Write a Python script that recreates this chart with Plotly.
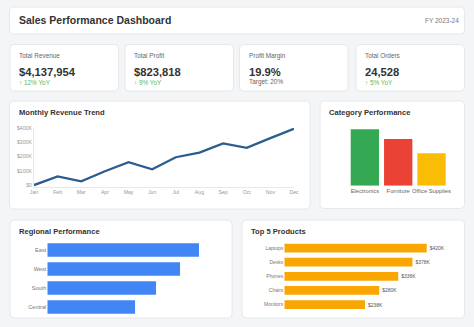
import plotly.graph_objects as go

W, H = 474, 327

# ---------------- data ----------------
kpi_labels = ["Total Revenue", "Total Profit", "Profit Margin", "Total Orders"]
kpi_values = ["$4,137,954", "$823,818", "19.9%", "24,528"]
kpi_subs = ["↑ 12% YoY", "↑ 9% YoY", "Target: 20%", "↑ 5% YoY"]

months = ["Jan", "Feb", "Mar", "Apr", "May", "Jun", "Jul", "Aug", "Sep", "Oct", "Nov", "Dec"]
monthly_revenue = [0, 61000, 26000, 97000, 160000, 110000, 195000, 228000, 292000, 261000, 329000, 395000]
rev_tickvals = [0, 100000, 200000, 300000, 400000]
rev_ticktext = ["$0", "$100K", "$200K", "$300K", "$400K"]

categories = ["Electronics", "Furniture", "Office Supplies"]
category_values = [1718000, 1423000, 987000]
category_colors = ["#34a853", "#ea4335", "#fbbc05"]

regions = ["East", "West", "South", "Central"]
region_values = [1305000, 1142000, 935000, 755000]

products = ["Laptops", "Desks", "Phones", "Chairs", "Monitors"]
product_values = [420000, 378000, 336000, 280000, 238000]
product_labels = ["$420K", "$378K", "$336K", "$280K", "$238K"]

FONT = "Liberation Sans, Arial, sans-serif"


def px(x):
    return x / W


def py(y):
    return 1 - y / H


def card(x0, y0, x1, y1, r=4):
    X0, X1 = px(x0), px(x1)
    Y0, Y1 = py(y0), py(y1)
    rx, ry = r / W, r / H
    path = (f"M {X0+rx},{Y0} L {X1-rx},{Y0} Q {X1},{Y0} {X1},{Y0-ry} "
            f"L {X1},{Y1+ry} Q {X1},{Y1} {X1-rx},{Y1} "
            f"L {X0+rx},{Y1} Q {X0},{Y1} {X0},{Y1+ry} "
            f"L {X0},{Y0-ry} Q {X0},{Y0} {X0+rx},{Y0} Z")
    return dict(type="path", path=path, xref="paper", yref="paper",
                fillcolor="white", line=dict(color="#e6e8eb", width=1), layer="below")


def txt(x, y, s, size, color, bold=False, anchor="left"):
    return dict(x=px(x), y=py(y), xref="paper", yref="paper", text=(f"<b>{s}</b>" if bold else s),
                showarrow=False, xanchor=anchor, yanchor="middle", borderpad=0,
                font=dict(family=FONT, size=size, color=color))


fig = go.Figure()

# Line chart
fig.add_trace(go.Scatter(x=months, y=monthly_revenue, mode="lines",
                         line=dict(color="#2b5d8e", width=2.3), xaxis="x", yaxis="y",
                         showlegend=False, hoverinfo="skip"))
# Category bars
fig.add_trace(go.Bar(x=categories, y=category_values, marker=dict(color=category_colors, line=dict(width=0)),
                     xaxis="x2", yaxis="y2", showlegend=False, hoverinfo="skip"))
# Regional bars
fig.add_trace(go.Bar(y=regions, x=region_values, orientation="h",
                     marker=dict(color="#4285f4", line=dict(width=0)),
                     xaxis="x3", yaxis="y3", showlegend=False, hoverinfo="skip"))
# Product bars
fig.add_trace(go.Bar(y=products, x=product_values, orientation="h", text=product_labels,
                     textposition="outside", cliponaxis=False,
                     textfont=dict(family=FONT, size=5, color="#555"),
                     marker=dict(color="#f9a602", line=dict(width=0)),
                     xaxis="x4", yaxis="y4", showlegend=False, hoverinfo="skip"))

shapes = [card(9.5, 7, 464.5, 34)]
kpi_x = [10, 125, 239.5, 356]
for x0 in kpi_x:
    shapes.append(card(x0, 44.5, x0 + 108.5, 91))
shapes += [card(9.5, 101, 310, 209), card(320, 101, 464.5, 208.5),
           card(10, 220, 232, 318), card(242, 220, 464.5, 318)]

ann = [txt(18, 20, "Sales Performance Dashboard", 10.5, "#333", bold=True),
       txt(460, 20, "FY 2023-24", 6.5, "#777", anchor="right")]
for i, x0 in enumerate(kpi_x):
    ann.append(txt(x0 + 8.3, 56, kpi_labels[i], 6.4, "#666"))
    ann.append(txt(x0 + 8.3, 71.5, kpi_values[i], 11.2, "#333", bold=True))
    sub_color = "#666" if kpi_subs[i].startswith("Target") else "#5cb85c"
    ann.append(txt(x0 + 8.3, 82.5, kpi_subs[i], 6.4, sub_color))
ann += [txt(18, 112.5, "Monthly Revenue Trend", 7.6, "#333", bold=True),
        txt(328.3, 112.7, "Category Performance", 7.6, "#333", bold=True),
        txt(18, 231, "Regional Performance", 7.6, "#333", bold=True),
        txt(250, 231, "Top 5 Products", 7.6, "#333", bold=True)]

tickfont = dict(family=FONT, size=5.2, color="#999")
common = dict(automargin=False, fixedrange=True, showgrid=False, zeroline=False)

fig.update_layout(
    width=W, height=H, autosize=False,
    margin=dict(l=0, r=0, t=0, b=0, pad=0),
    paper_bgcolor="#f4f5f7", plot_bgcolor="rgba(0,0,0,0)",
    shapes=shapes, annotations=ann, bargap=0.15,
    xaxis=dict(domain=[px(34), px(294)], range=[0, 11],
               showline=True, linecolor="#e8e8e8", linewidth=1, ticks="", tickfont=tickfont,
               tickangle=0, anchor="y", **common),
    yaxis=dict(domain=[py(187.2), py(128)], range=[-15000, 400000],
               showline=True, linecolor="#e8e8e8", linewidth=1, ticks="",
               tickvals=rev_tickvals, ticktext=rev_ticktext, tickfont=tickfont,
               anchor="x", **common),
    xaxis2=dict(domain=[px(348.2), px(448.2)], showline=False, tickangle=0,
                ticks="", tickfont=dict(family=FONT, size=5.8, color="#666"), anchor="y2", **common),
    yaxis2=dict(domain=[py(185.7), py(125.7)], range=[0, category_values[0] * 60 / 56.4],
                showticklabels=False, anchor="x2", **common),
    xaxis3=dict(domain=[px(47.3), px(215)], range=[0, region_values[0] * 167.7 / 151.7],
                showticklabels=False, anchor="y3", **common),
    yaxis3=dict(domain=[py(316.5), py(240.5)], range=[3.5, -0.5],
                ticks="", tickfont=dict(family=FONT, size=5.6, color="#777"), anchor="x3", **common),
    xaxis4=dict(domain=[px(284.3), px(453.8)], range=[0, 500000],
                showticklabels=False, anchor="y4", **common),
    yaxis4=dict(domain=[py(311.6), py(241)], range=[4.5, -0.5],
                ticks="", tickfont=dict(family=FONT, size=5, color="#777"), anchor="x4", **common),
)

fig.data[2].update(width=0.71)
fig.data[3].update(width=0.62)

fig.write_html("out.html", config=dict(displayModeBar=False))
